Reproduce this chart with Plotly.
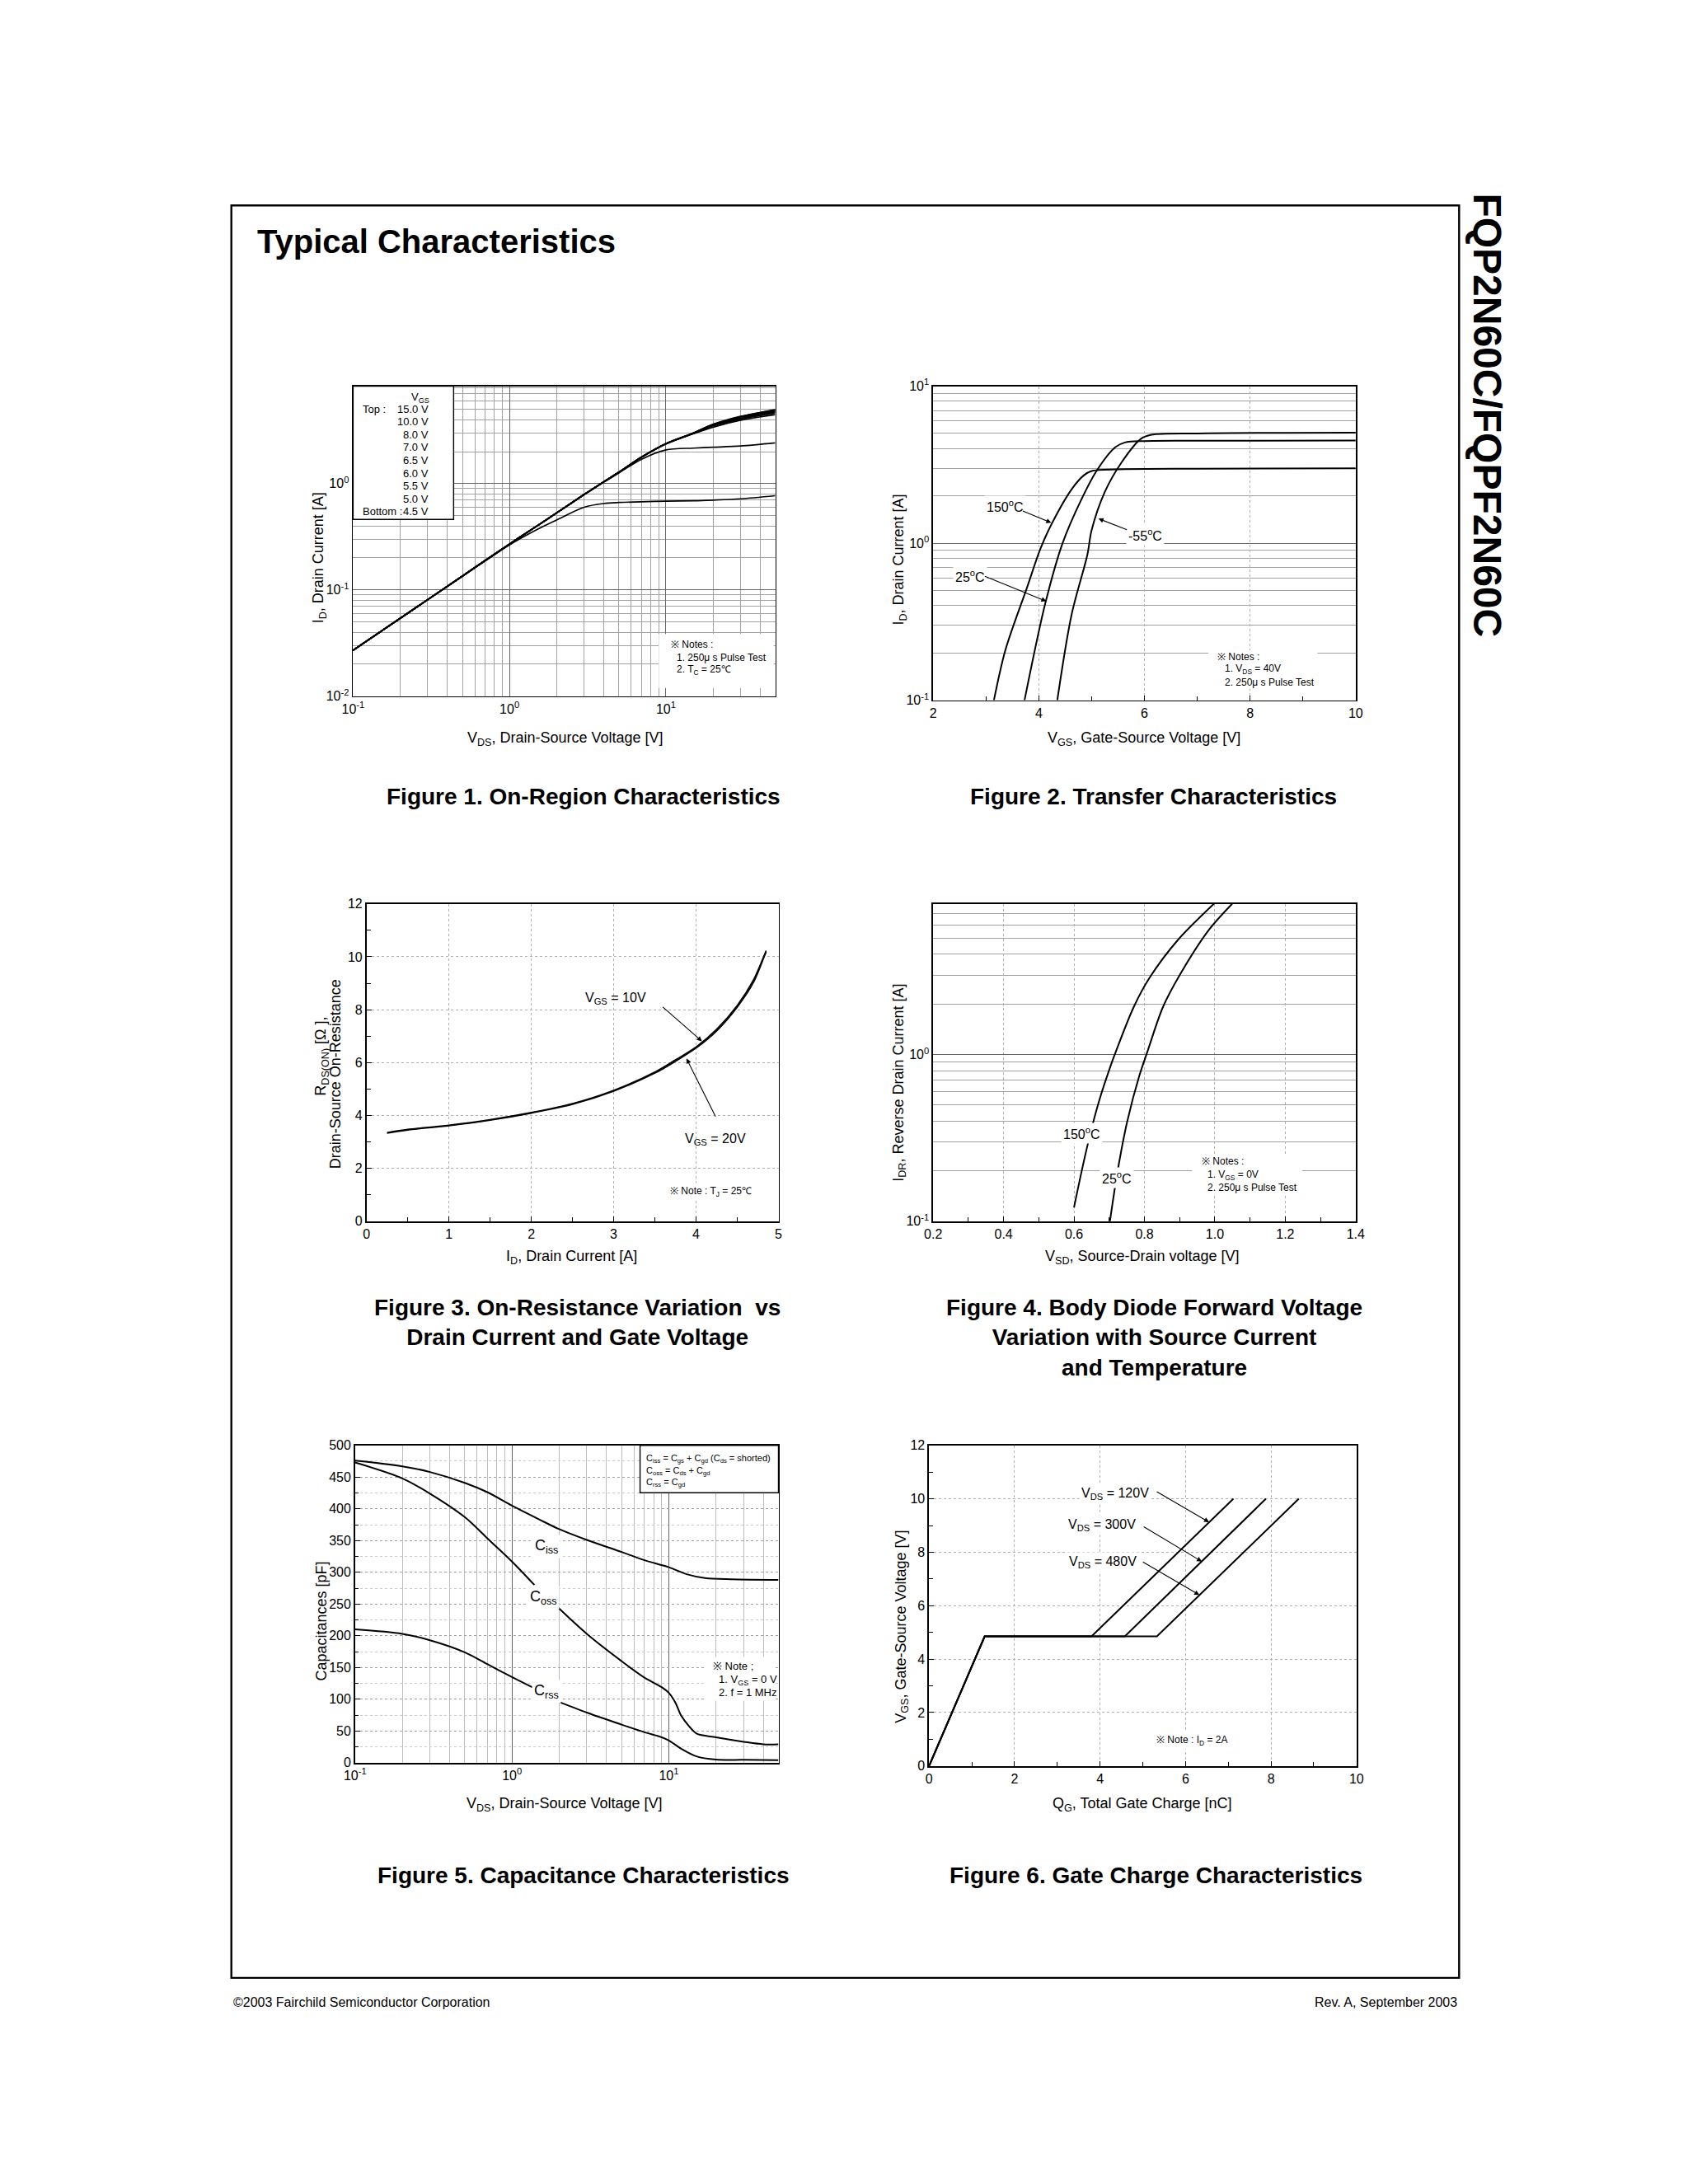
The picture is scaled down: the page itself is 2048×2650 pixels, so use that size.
import plotly.graph_objects as go

W, H = 2048, 2650
FONT = "Liberation Sans, Arial, Helvetica, sans-serif"

# ---------------- Figure 1 data: On-Region Characteristics ----------------
f1_vds = [0.1, 0.2, 0.5, 1, 1.5, 2, 3, 4, 5, 7, 10, 15, 20, 30, 50]
f1_id_15v0 = [0.027, 0.054, 0.135, 0.27, 0.40, 0.53, 0.79, 1.04, 1.28, 1.78, 2.38, 3.00, 3.62, 4.30, 4.98]
f1_id_10v0 = [0.027, 0.054, 0.135, 0.27, 0.40, 0.53, 0.79, 1.04, 1.28, 1.78, 2.38, 3.00, 3.60, 4.26, 4.92]
f1_id_8v0 = [0.027, 0.054, 0.135, 0.27, 0.40, 0.53, 0.79, 1.04, 1.28, 1.78, 2.38, 2.99, 3.58, 4.22, 4.86]
f1_id_7v0 = [0.027, 0.054, 0.135, 0.27, 0.40, 0.53, 0.79, 1.04, 1.28, 1.78, 2.37, 2.99, 3.56, 4.18, 4.80]
f1_id_6v5 = [0.027, 0.054, 0.135, 0.27, 0.40, 0.53, 0.79, 1.04, 1.28, 1.78, 2.37, 2.98, 3.54, 4.12, 4.72]
f1_id_6v0 = [0.027, 0.054, 0.135, 0.27, 0.40, 0.53, 0.79, 1.04, 1.28, 1.77, 2.37, 2.97, 3.50, 4.05, 4.60]
f1_id_5v5 = [0.027, 0.054, 0.135, 0.27, 0.40, 0.53, 0.79, 1.04, 1.28, 1.77, 2.36, 2.95, 3.40, 3.95, 4.45]
f1_id_5v0 = [0.027, 0.054, 0.135, 0.27, 0.40, 0.53, 0.785, 1.03, 1.26, 1.70, 2.08, 2.16, 2.20, 2.26, 2.42]
f1_id_4v5 = [0.027, 0.054, 0.134, 0.265, 0.37, 0.455, 0.60, 0.65, 0.665, 0.675, 0.685, 0.69, 0.70, 0.72, 0.77]
f1_vgs_labels = ["15.0 V", "10.0 V", "8.0 V", "7.0 V", "6.5 V", "6.0 V", "5.5 V", "5.0 V", "4.5 V"]
f1_series = [f1_id_15v0, f1_id_10v0, f1_id_8v0, f1_id_7v0, f1_id_6v5,
             f1_id_6v0, f1_id_5v5, f1_id_5v0, f1_id_4v5]

# ---------------- Figure 2 data: Transfer Characteristics ----------------
f2_vgs_150 = [3.15, 3.37, 3.78, 4.03, 4.25, 4.62, 4.85, 5.0, 5.5, 7, 10]
f2_id_150 = [0.1, 0.21, 0.525, 0.92, 1.34, 2.2, 2.7, 2.88, 2.95, 2.98, 3.0]
f2_vgs_25 = [3.73, 4.12, 4.45, 4.8, 5.1, 5.45, 5.63, 6.0, 7, 10]
f2_id_25 = [0.1, 0.41, 1.0, 1.88, 2.91, 4.09, 4.38, 4.47, 4.49, 4.5]
f2_vgs_m55 = [4.35, 4.62, 4.92, 5.0, 5.25, 5.57, 5.93, 6.13, 7, 10]
f2_id_m55 = [0.1, 0.35, 0.845, 1.21, 2.12, 3.28, 4.61, 4.9, 5.0, 5.05]

# ---------------- Figure 3 data: On-Resistance ----------------
f3_id = [0.25, 0.5, 1, 1.5, 2, 2.5, 3, 3.5, 3.75, 4, 4.25, 4.5, 4.7, 4.82, 4.85]
f3_r_10v = [3.35, 3.47, 3.63, 3.84, 4.11, 4.45, 4.95, 5.64, 6.10, 6.59, 7.26, 8.16, 9.14, 10.0, 10.23]
f3_r_20v = [3.33, 3.45, 3.61, 3.82, 4.09, 4.42, 4.92, 5.60, 6.05, 6.55, 7.20, 8.10, 9.05, 9.95, 10.18]

# ---------------- Figure 4 data: Body Diode ----------------
f4_vsd_150 = [0.6, 0.625, 0.65, 0.675, 0.70, 0.714, 0.77, 0.814, 0.895, 0.997]
f4_idr_150 = [0.121, 0.215, 0.361, 0.56, 0.81, 0.98, 1.94, 2.88, 4.88, 8.03]
f4_vsd_25 = [0.702, 0.724, 0.751, 0.786, 0.807, 0.853, 0.902, 0.982, 1.049]
f4_idr_25 = [0.1, 0.201, 0.396, 0.753, 1.02, 1.94, 3.05, 5.57, 8.03]

# ---------------- Figure 5 data: Capacitance ----------------
f5_vds_ciss = [0.1, 0.2, 0.3, 0.5, 0.7, 1, 1.5, 2, 3, 5, 7, 10, 13, 17, 25, 50]
f5_ciss = [476, 467, 458, 441, 426, 405, 383, 368, 351, 332, 319, 308, 297, 291, 289, 288]
f5_vds_coss = [0.1, 0.2, 0.3, 0.5, 0.7, 1, 1.39, None, 1.9, 3, 5, 7, 9, 10, 11, 12, 13.5, 15, 20, 30, 40, 50]
f5_coss = [473, 448, 424, 387, 353, 317, 280, None, 248, 203, 160, 134, 119, 110, 95, 74, 57, 46, 40, 33, 29, 29]
f5_vds_crss = [0.1, 0.2, 0.3, 0.5, 0.7, 1, 1.37, None, 1.94, 3, 5, 7, 9, 10, 12, 15, 20, 30, 50]
f5_crss = [210, 203, 193, 174, 155, 135, 118, None, 97, 79, 60, 48, 40, 35, 22, 10, 5, 4.5, 4]

# ---------------- Figure 6 data: Gate Charge ----------------
f6_qg_120 = [0, 1.3, 3.8, 7.12]
f6_qg_300 = [0, 1.3, 4.58, 7.88]
f6_qg_480 = [0, 1.3, 5.33, 8.65]
f6_vgs = [0, 4.85, 4.85, 10]

# ---------------- helpers ----------------
def px(x):
    return x / W

def py(y):
    return 1 - y / H

fig = go.Figure()

def line(x, y, ax, width=2.0, smooth=True):
    fig.add_trace(go.Scatter(
        x=x, y=y, xaxis=ax[0], yaxis=ax[1], mode="lines",
        line=dict(color="black", width=width,
                  shape="spline" if smooth else "linear", smoothing=0.9),
        connectgaps=False, hoverinfo="skip", showlegend=False))

for s in f1_series:
    line(f1_vds, s, ("x", "y"), width=1.7)
line(f2_vgs_150, f2_id_150, ("x2", "y2"))
line(f2_vgs_25, f2_id_25, ("x2", "y2"))
line(f2_vgs_m55, f2_id_m55, ("x2", "y2"))
line(f3_id, f3_r_10v, ("x3", "y3"), width=1.7)
line(f3_id, f3_r_20v, ("x3", "y3"), width=1.7)
line(f4_vsd_150, f4_idr_150, ("x4", "y4"))
line(f4_vsd_25, f4_idr_25, ("x4", "y4"))
line(f5_vds_ciss, f5_ciss, ("x5", "y5"))
line(f5_vds_coss, f5_coss, ("x5", "y5"))
line(f5_vds_crss, f5_crss, ("x5", "y5"))
line(f6_qg_120, f6_vgs, ("x6", "y6"), smooth=False)
line(f6_qg_300, f6_vgs, ("x6", "y6"), smooth=False)
line(f6_qg_480, f6_vgs, ("x6", "y6"), smooth=False)

TICKF = dict(family=FONT, size=16, color="black")
MAJ = "#666666"
MIN = "#a2a2a2"
DOT = "#b0b0b0"

def base(domain, anchor, **kw):
    d = dict(domain=domain, anchor=anchor, showline=True, linecolor="black",
             linewidth=1.8, mirror=True, ticks="inside", ticklen=6,
             tickcolor="black", tickfont=TICKF, zeroline=False,
             showgrid=True, fixedrange=True)
    d.update(kw)
    return d

dec_minor_x = [0.2, 0.3, 0.4, 0.5, 0.6, 0.7, 0.8, 0.9, 2, 3, 4, 5, 6, 7, 8, 9, 20, 30, 40]
sup = lambda e: "10<sup>%s</sup>" % e

# subplot pixel boxes: (x0, x1, y0, y1)
B1 = (419.5, 938, 461, 840)
B2 = (1132, 1651, 461, 845)
B3 = (436, 942, 1094, 1482)
B4 = (1132, 1651, 1094, 1482)
B5 = (422, 942, 1756, 2144)
B6 = (1127, 1652, 1756, 2148)

def dx(b):
    return [px(b[0]), px(b[1])]

def dy(b):
    return [py(b[3]), py(b[2])]

layout = dict(
    width=W, height=H, margin=dict(l=0, r=0, t=0, b=0),
    paper_bgcolor="white", plot_bgcolor="white", showlegend=False,
    font=dict(family=FONT, color="black"),
)

layout["xaxis"] = base(dx(B1), "y", type="log", range=[-1, 1.699],
                       tickmode="array", tickvals=[0.1, 1, 10],
                       ticktext=[sup("-1"), sup("0"), sup("1")], ticks="",
                       gridcolor=MAJ,
                       minor=dict(tickmode="array", tickvals=dec_minor_x,
                                  showgrid=True, gridcolor=MIN, ticks=""))
layout["yaxis"] = base(dy(B1), "x", type="log", range=[-2, 0.918],
                       tickmode="array", tickvals=[0.01, 0.1, 1],
                       ticktext=[sup("-2"), sup("-1"), sup("0")], ticks="",
                       gridcolor=MAJ,
                       minor=dict(tickmode="array",
                                  tickvals=[0.02, 0.03, 0.04, 0.05, 0.06, 0.07, 0.08, 0.09,
                                            0.2, 0.3, 0.4, 0.5, 0.6, 0.7, 0.8, 0.9,
                                            2, 3, 4, 5, 6, 7, 8],
                                  showgrid=True, gridcolor=MIN, ticks=""))

layout["xaxis2"] = base(dx(B2), "y2", range=[2, 10], tickmode="array",
                        tickvals=[2, 4, 6, 8, 10], gridcolor=DOT, griddash="dot",
                        minor=dict(tickmode="array", tickvals=[3, 5, 7, 9],
                                   ticks="inside", ticklen=5, showgrid=False))
layout["yaxis2"] = base(dy(B2), "x2", type="log", range=[-1, 1],
                        tickmode="array", tickvals=[0.1, 1, 10],
                        ticktext=[sup("-1"), sup("0"), sup("1")], ticks="",
                        gridcolor=MAJ,
                        minor=dict(tickmode="array",
                                   tickvals=[0.2, 0.3, 0.4, 0.5, 0.6, 0.7, 0.8, 0.9,
                                             2, 3, 4, 5, 6, 7, 8, 9],
                                   showgrid=True, gridcolor=MIN, ticks=""))

layout["xaxis3"] = base(dx(B3), "y3", range=[0, 5], dtick=1, tick0=0,
                        gridcolor=DOT, griddash="dot",
                        minor=dict(dtick=0.5, ticks="inside", ticklen=5, showgrid=False))
layout["yaxis3"] = base(dy(B3), "x3", range=[0, 12], dtick=2, tick0=0,
                        gridcolor=DOT, griddash="dot",
                        minor=dict(dtick=1, ticks="inside", ticklen=5, showgrid=False))

layout["xaxis4"] = base(dx(B4), "y4", range=[0.2, 1.4], tickmode="array",
                        tickvals=[0.2, 0.4, 0.6, 0.8, 1.0, 1.2, 1.4],
                        ticktext=["0.2", "0.4", "0.6", "0.8", "1.0", "1.2", "1.4"],
                        gridcolor=DOT, griddash="dot",
                        minor=dict(tickmode="array", tickvals=[0.3, 0.5, 0.7, 0.9, 1.1, 1.3],
                                   ticks="inside", ticklen=5, showgrid=False))
layout["yaxis4"] = base(dy(B4), "x4", type="log", range=[-1, 0.905],
                        tickmode="array", tickvals=[0.1, 1],
                        ticktext=[sup("-1"), sup("0")], ticks="",
                        gridcolor=MAJ,
                        minor=dict(tickmode="array",
                                   tickvals=[0.2, 0.3, 0.4, 0.5, 0.6, 0.7, 0.8, 0.9,
                                             2, 3, 4, 5, 6, 7, 8],
                                   showgrid=True, gridcolor=MIN, ticks=""))

layout["xaxis5"] = base(dx(B5), "y5", type="log", range=[-1, 1.699],
                        tickmode="array", tickvals=[0.1, 1, 10],
                        ticktext=[sup("-1"), sup("0"), sup("1")], ticks="",
                        gridcolor=MAJ,
                        minor=dict(tickmode="array", tickvals=dec_minor_x,
                                   showgrid=True, gridcolor="#bdbdbd", ticks=""))
layout["yaxis5"] = base(dy(B5), "x5", range=[0, 500], dtick=50, tick0=0,
                        gridcolor="#a0a0a0", griddash="dot",
                        minor=dict(dtick=25, ticks="inside", ticklen=4,
                                   showgrid=True, gridcolor="#cccccc"))

layout["xaxis6"] = base(dx(B6), "y6", range=[0, 10], dtick=2, tick0=0,
                        gridcolor=DOT, griddash="dot",
                        minor=dict(dtick=1, ticks="inside", ticklen=5, showgrid=False))
layout["yaxis6"] = base(dy(B6), "x6", range=[0, 12], dtick=2, tick0=0,
                        gridcolor=DOT, griddash="dot",
                        minor=dict(dtick=1, ticks="inside", ticklen=5, showgrid=False))

fig.update_layout(**layout)

ann = []
shapes = []

def text(t, x, y, size=16, xanchor="center", yanchor="middle", angle=0,
         bg=None, bold=False, align="center"):
    d = dict(text=("<b>%s</b>" % t) if bold else t, x=px(x), y=py(y),
             xref="paper", yref="paper", showarrow=False,
             xanchor=xanchor, yanchor=yanchor, textangle=angle, align=align,
             font=dict(family=FONT, size=size, color="black"))
    if bg:
        d["bgcolor"] = bg
        d["borderpad"] = 2
    ann.append(d)

def arrow(tail, head):
    ann.append(dict(text="", x=px(head[0]), y=py(head[1]), xref="paper", yref="paper",
                    ax=tail[0] - head[0], ay=tail[1] - head[1], showarrow=True,
                    arrowhead=2, arrowsize=1.1, arrowwidth=1.1, arrowcolor="black"))

def white_rect(x0, x1, y0, y1, border=False):
    shapes.append(dict(type="rect", xref="paper", yref="paper", layer="above",
                       x0=px(x0), x1=px(x1), y0=py(y1), y1=py(y0),
                       fillcolor="white",
                       line=dict(color="black" if border else "white",
                                 width=1.4 if border else 0)))

# page frame, title, side text, footer
shapes.append(dict(type="rect", xref="paper", yref="paper", x0=px(270), x1=px(1778),
                   y0=py(2407), y1=py(240), line=dict(color="black", width=2.4)))
text("Typical Characteristics", 300, 284, size=40, xanchor="left", bold=True)
text("FQP2N60C/FQPF2N60C", 1813, 497, size=48, angle=90, bold=True)
text("©2003 Fairchild Semiconductor Corporation", 270, 2437, size=16, xanchor="left")
text("Rev. A, September 2003", 1778, 2437, size=16, xanchor="right")

# captions
text("Figure 1. On-Region Characteristics", 703, 963, size=28, bold=True)
text("Figure 2. Transfer Characteristics", 1403, 963, size=28, bold=True)
text("Figure 3. On-Resistance Variation  vs<br>Drain Current and Gate Voltage", 695, 1606,
     size=28, bold=True)
text("Figure 4. Body Diode Forward Voltage<br>Variation with Source Current<br>and Temperature",
     1404, 1624, size=28, bold=True)
text("Figure 5. Capacitance Characteristics", 703, 2282, size=28, bold=True)
text("Figure 6. Gate Charge Characteristics", 1406, 2282, size=28, bold=True)

# axis titles
AT = 18
text("I<sub>D</sub>, Drain Current [A]", 379, 671, size=AT, angle=-90)
text("V<sub>DS</sub>, Drain-Source Voltage [V]", 680, 892, size=AT)
text("I<sub>D</sub>, Drain Current [A]", 1091, 673, size=AT, angle=-90)
text("V<sub>GS</sub>, Gate-Source Voltage [V]", 1391, 892, size=AT)
text("R<sub>DS(ON)</sub> [Ω ],", 381, 1280, size=AT, angle=-90)
text("Drain-Source On-Resistance", 398, 1302, size=AT, angle=-90)
text("I<sub>D</sub>, Drain Current [A]", 688, 1526, size=AT)
text("I<sub>DR</sub>, Reverse Drain Current [A]", 1090, 1313, size=AT, angle=-90)
text("V<sub>SD</sub>, Source-Drain voltage [V]", 1389, 1526, size=AT)
text("Capacitances [pF]", 381, 1971, size=AT, angle=-90)
text("V<sub>DS</sub>, Drain-Source Voltage [V]", 679, 2195, size=AT)
text("V<sub>GS</sub>, Gate-Source Voltage [V]", 1093, 1978, size=AT, angle=-90)
text("Q<sub>G</sub>, Total Gate Charge [nC]", 1389, 2195, size=AT)

# Figure 1 legend box
white_rect(419.5, 543, 461, 624, border=True)
text("V<sub>GS</sub>", 502, 475, size=13)
text("Top :", 429, 489, size=13, xanchor="left")
text("Bottom :", 429, 614, size=13, xanchor="left")
legend_rows_y = [489, 504.5, 520, 536, 551.5, 567.5, 583, 599, 614]
for lab, yy in zip(f1_vgs_labels, legend_rows_y):
    text(lab, 514, yy, size=13, xanchor="right")

# Figure 1 notes
white_rect(795, 936, 764, 830)
text("※ Notes :", 808, 777, size=12, xanchor="left")
text("1. 250μ s Pulse Test", 815, 793, size=12, xanchor="left")
text("2. T<sub>C</sub> = 25℃", 815, 808, size=12, xanchor="left")

# Figure 2 labels
text("150<sup>o</sup>C", 1220, 608, size=16, bg="white")
arrow((1241, 613), (1277, 628))
text("-55<sup>o</sup>C", 1393, 643, size=16, bg="white")
arrow((1371, 637), (1335, 623))
text("25<sup>o</sup>C", 1177, 693, size=16, bg="white")
arrow((1195, 693), (1271, 724))
white_rect(1470, 1604, 784, 831)
text("※ Notes :", 1479, 792, size=12, xanchor="left")
text("1. V<sub>DS</sub> = 40V", 1488, 807, size=12, xanchor="left")
text("2. 250μ s Pulse Test", 1488, 823, size=12, xanchor="left")

# Figure 3 labels
text("V<sub>GS</sub> = 10V", 742, 1210, size=16)
arrow((799, 1219), (848, 1262))
text("V<sub>GS</sub> = 20V", 865, 1382, size=16)
arrow((865, 1355), (829, 1283))
text("※ Note : T<sub>J</sub> = 25℃", 859, 1446, size=12, bg="white")

# Figure 4 labels
text("150<sup>o</sup>C", 1315, 1374, size=16, bg="white")
text("25<sup>o</sup>C", 1358, 1429, size=16, bg="white")
white_rect(1450, 1585, 1400, 1450)
text("※ Notes :", 1460, 1409, size=12, xanchor="left")
text("1. V<sub>GS</sub> = 0V", 1467, 1426, size=12, xanchor="left")
text("2. 250μ s Pulse Test", 1467, 1441, size=12, xanchor="left")

# Figure 5 labels
white_rect(772, 942, 1756, 1814, border=True)
text("C<sub>iss</sub> = C<sub>gs</sub> + C<sub>gd</sub> (C<sub>ds</sub> = shorted)", 777, 1772,
     size=11, xanchor="left")
text("C<sub>oss</sub> = C<sub>ds</sub> + C<sub>gd</sub>", 777, 1787, size=11, xanchor="left")
text("C<sub>rss</sub> = C<sub>gd</sub>", 777, 1802, size=11, xanchor="left")
text("C<sub>iss</sub>", 657, 1880, size=18, bg="white")
text("C<sub>oss</sub>", 653, 1942, size=18, bg="white")
text("C<sub>rss</sub>", 657, 2057, size=18, bg="white")
white_rect(852, 938, 2015, 2068)
text("※ Note ;", 859, 2026, size=13, xanchor="left")
text("1. V<sub>GS</sub> = 0 V", 867, 2043, size=13, xanchor="left")
text("2. f = 1 MHz", 867, 2058, size=13, xanchor="left")

# Figure 6 labels
text("V<sub>DS</sub> = 120V", 1356, 1815, size=16, bg="white")
arrow((1406, 1812), (1471, 1850))
text("V<sub>DS</sub> = 300V", 1339, 1853, size=16, bg="white")
arrow((1390, 1855), (1462, 1898))
text("V<sub>DS</sub> = 480V", 1340, 1899, size=16, bg="white")
arrow((1389, 1898), (1459, 1939))
text("※ Note : I<sub>D</sub> = 2A", 1450, 2117, size=12, bg="white")

fig.update_layout(annotations=ann, shapes=shapes)
fig.write_html("out.html",
               config={"displayModeBar": False, "staticPlot": True},
               post_script="document.body.style.margin='0px';"
                           "document.documentElement.style.overflow='hidden';")
